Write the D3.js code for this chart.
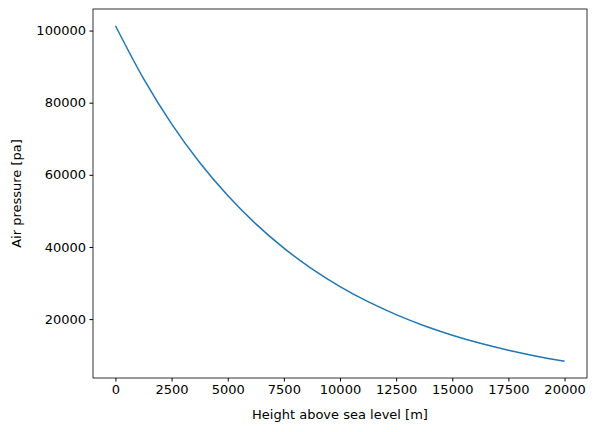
<!DOCTYPE html>
<meta charset='utf-8'>
<style>
  body { margin: 0; background: #fff; }
  text { font-family: 'DejaVu Sans', sans-serif; font-size: 13px; fill: #000; }
</style>
<div id='chart'></div>
<script src='https://d3js.org/d3.v7.min.js'></script>
<script>
  // values
  var heights = [0, 1250, 2500, 3750, 5000, 6250, 7500, 8750, 10000, 11250,
                 12500, 13750, 15000, 16250, 17500, 18750, 20000];
  var pressures = [101325, 86660, 74130, 63410, 54240, 46390, 39680, 33940, 29030,
                   24830, 21240, 18170, 15540, 13290, 11370, 9730, 8320];
  var xTicks = [0, 2500, 5000, 7500, 10000, 12500, 15000, 17500, 20000];
  var yTicks = [20000, 40000, 60000, 80000, 100000];

  var margin = {top: 9, right: 12, bottom: 54, left: 93},
      width = 599 - margin.left - margin.right,
      height = 432 - margin.top - margin.bottom;

  var svg = d3.select('#chart')
    .append('svg')
      .attr('width', 599)
      .attr('height', 432)
    .append('g')
      .attr('transform', 'translate(' + margin.left + ',' + margin.top + ')');

  var x = d3.scaleLinear().domain([-1000, 21000]).range([0, width]);
  var y = d3.scaleLinear().domain([3670, 105975]).range([height, 0]);

  svg.append('g')
    .attr('transform', 'translate(0,' + height + ')')
    .call(d3.axisBottom(x).tickValues(xTicks).tickFormat(d3.format('d')).tickSizeInner(3.5).tickSizeOuter(0).tickPadding(3.5));
  svg.append('g')
    .call(d3.axisLeft(y).tickValues(yTicks).tickFormat(d3.format('d')).tickSizeInner(3.5).tickSizeOuter(0).tickPadding(3.5));
  svg.selectAll('.domain').remove();
  svg.selectAll('.tick text').style('font-size', '13px').style('font-family', 'DejaVu Sans');

  svg.append('rect')
    .attr('width', width).attr('height', height)
    .attr('fill', 'none').attr('stroke', '#000').attr('stroke-width', 0.8);

  var data = heights.map(function (h, i) { return [h, pressures[i]]; });
  svg.append('path')
    .datum(data)
    .attr('fill', 'none')
    .attr('stroke', '#1f77b4')
    .attr('stroke-width', 1.5)
    .attr('d', d3.line()
      .x(function (d) { return x(d[0]); })
      .y(function (d) { return y(d[1]); })
      .curve(d3.curveMonotoneX));

  svg.append('text')
    .attr('x', width / 2).attr('y', height + 41)
    .attr('text-anchor', 'middle')
    .text('Height above sea level [m]');
  svg.append('text')
    .attr('transform', 'translate(' + (-72) + ',' + (height / 2) + ') rotate(-90)')
    .attr('text-anchor', 'middle')
    .text('Air pressure [pa]');
</script>
